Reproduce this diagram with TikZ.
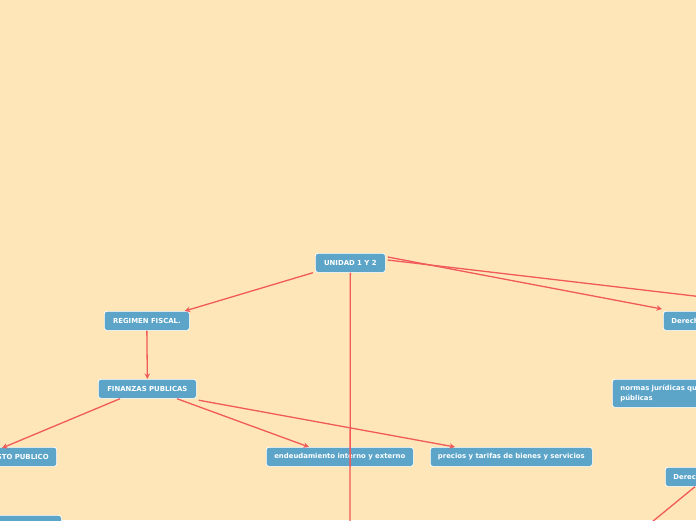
\documentclass[tikz,border=0pt]{standalone}
\usepackage{fontspec}
\setmainfont{DejaVu Sans}
\usetikzlibrary{arrows.meta}
\definecolor{bgcol}{HTML}{FFE6B8}
\definecolor{boxcol}{HTML}{5CA5C9}
\definecolor{linecol}{HTML}{F05A5A}
\tikzset{
  topic/.style={draw=white, line width=0.7pt, fill=boxcol, rounded corners=2.5pt,
    text=white, font=\bfseries\fontsize{6.9}{10}\selectfont, inner sep=0pt,
    minimum height=19pt, anchor=north west},
  lefttopic/.style={topic, inner xsep=8pt, align=left, text width=160pt, minimum width=176pt},
  conn/.style={draw=linecol, line width=1.3pt},
  arr/.style={conn, -{Stealth[length=5.5pt,width=5.5pt]}}
}
\begin{document}
\begin{tikzpicture}[x=1pt,y=-1pt]
\fill[bgcol] (0,0) rectangle (696,520);
\useasboundingbox (0,0) rectangle (696,520);
\clip (0,0) rectangle (696,520);
% nodes
\node[topic, minimum width=70pt] (unidad) at (315,253) {UNIDAD 1 Y 2};
\node[topic, minimum width=85pt] (regimen) at (104,311) {REGIMEN FISCAL.};
\node[topic, minimum width=98pt] (finanzas) at (98,379) {FINANZAS PUBLICAS};
\node[topic, anchor=north east, inner xsep=8pt] (gasto) at (57,447) {GASTO PUBLICO};
\node[topic, minimum width=147pt] (endeud) at (266,447) {endeudamiento interno y externo};
\node[topic, minimum width=162pt] (precios) at (430,447) {precios y tarifas de bienes y servicios};
\node[topic, minimum width=90pt] (leftbot) at (-29,515) {};
\node[lefttopic, minimum height=28pt] (normas) at (612,379) {normas jurídicas que regulan las\\públicas};
\node[lefttopic] (derfin) at (663,311) {Derecho Financiero};
\node[lefttopic] (derfis) at (665,467) {Derecho Fiscal};
% free ends
\coordinate (offA) at (760,303.7);
\coordinate (offB) at (350,540);
\coordinate (offC) at (630,540);
% connectors
\draw[arr] ([xshift=-2pt]unidad.south west) -- ([xshift=-5pt]regimen.north east);
\draw[arr] (regimen.south) -- (finanzas.north);
\draw[arr] ([xshift=22pt]finanzas.south west) -- ([xshift=-55pt,yshift=-1pt]gasto.north east);
\draw[arr] ([xshift=79pt]finanzas.south west) -- ([xshift=43pt]endeud.north west);
\draw[arr] ([xshift=2pt,yshift=-1.5pt]finanzas.south east) -- ([xshift=25pt]precios.north west);
\draw[conn] (unidad.south) -- (offB);
\draw[conn] ([xshift=2pt,yshift=-7pt]unidad.north east) -- (offA);
\draw[arr] ([xshift=2pt,yshift=-4pt]unidad.north east) -- ([xshift=-1pt,yshift=2pt]derfin.north west);
\draw[conn] ([xshift=30pt]derfis.south west) -- (offC);
\end{tikzpicture}
\end{document}
